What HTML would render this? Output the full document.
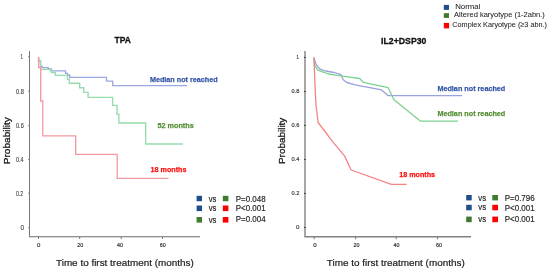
<!DOCTYPE html>
<html><head><meta charset="utf-8">
<style>
html,body{margin:0;padding:0;background:#fff;}
body{width:550px;height:273px;overflow:hidden;}
svg{display:block;font-family:"Liberation Sans",sans-serif;will-change:transform;}
</style></head>
<body>
<svg width="550" height="273" viewBox="0 0 550 273">
<rect width="550" height="273" fill="#fff"/>

<!-- Legend -->
<rect x="443.8" y="4.9" width="5.2" height="5" fill="#1f4e8c"/>
<rect x="443.8" y="13.2" width="5.2" height="4.7" fill="#3e7b2f"/>
<rect x="443.8" y="22.9" width="5.3" height="5.5" fill="#ff0000"/>
<g fill="#1f1f1f" stroke="#1f1f1f" stroke-width="0.06" font-size="7.9">
<text x="455.2" y="8.5" textLength="25.2" lengthAdjust="spacingAndGlyphs">Normal</text>
<text x="454.1" y="17" textLength="90.7" lengthAdjust="spacingAndGlyphs">Altered karyotype (1-2abn.)</text>
<text x="452.3" y="26.5" textLength="94.7" lengthAdjust="spacingAndGlyphs">Complex Karyotype (≥3 abn.)</text>
</g>

<!-- Titles -->
<g font-weight="bold" font-size="9.7" fill="#111" stroke="#111" stroke-width="0.3">
<text x="114.6" y="42.5" textLength="16.3" lengthAdjust="spacingAndGlyphs">TPA</text>
<text x="381.1" y="44.3" textLength="45.3" lengthAdjust="spacingAndGlyphs">IL2+DSP30</text>
</g>

<!-- LEFT CHART axes -->
<g stroke="#777" stroke-width="1" fill="none">
<path d="M29.5 51 V236.5"/><path d="M29 236.7 H200" stroke="#6a6a6a" stroke-width="1.1"/>
<path d="M28.2 56.7 H29.5 M28.2 91.2 H29.5 M28.2 125.6 H29.5 M28.2 159.6 H29.5 M28.2 193.2 H29.5 M28.2 227.6 H29.5"/>
<path d="M38.5 237 V239 M79.7 237 V239 M121.2 237 V239 M162.6 237 V239"/>
</g>
<g fill="#3a3a3a" stroke="#3a3a3a" stroke-width="0.1" font-size="6.4" text-anchor="end">
<text x="23" y="59.1" textLength="2.4" lengthAdjust="spacingAndGlyphs">1</text>
<text x="23.9" y="93.9" textLength="7.9" lengthAdjust="spacingAndGlyphs">0.8</text>
<text x="23.8" y="127.8" textLength="7.8" lengthAdjust="spacingAndGlyphs">0.6</text>
<text x="23.6" y="161.8" textLength="7.7" lengthAdjust="spacingAndGlyphs">0.4</text>
<text x="23.2" y="195.7" textLength="7.3" lengthAdjust="spacingAndGlyphs">0.2</text>
<text x="24" y="229.7">0</text>
</g>
<g fill="#333" stroke="#333" stroke-width="0.2" font-size="6" text-anchor="middle">
<text x="38.7" y="247">0</text>
<text x="80.2" y="247.3" textLength="6" lengthAdjust="spacingAndGlyphs">20</text>
<text x="120.1" y="247.1" textLength="6" lengthAdjust="spacingAndGlyphs">40</text>
<text x="162.7" y="247.1" textLength="6" lengthAdjust="spacingAndGlyphs">60</text>
</g>
<text x="56" y="266.4" font-size="9.3" fill="#222" stroke="#222" stroke-width="0.2" textLength="137.7" lengthAdjust="spacingAndGlyphs">Time to first treatment (months)</text>
<text transform="translate(10.4,164.2) rotate(-90)" font-size="9.6" fill="#1a1a1a" stroke="#1a1a1a" stroke-width="0.3" textLength="47" lengthAdjust="spacingAndGlyphs">Probability</text>

<!-- LEFT curves -->
<g fill="none" stroke-width="1.35">
<path stroke="#9ca6e0" d="M38.6 57 V61 H40.5 V66.5 H42.3 V67.6 H48.2 V68.8 H51.4 V70.9 H65.5 V73.3 H67.5 V75 H69.7 V77.4 H106.5 V81.1 H112.7 V85.6 H187.1"/>
<path stroke="#96dcac" d="M38.6 57 V61.5 H40.5 V69.3 H50 V70.5 H51.4 V72.5 H55.3 V75.4 H67.5 V79.2 H69.3 V83.2 H79.7 V87.7 H83.7 V92.3 H88.1 V97.4 H112.6 V105.4 H117 V114.2 H118.9 V123 H145.7 V144 H183"/>
<path stroke="#f59aa2" d="M38.6 57 V67.5 H40.7 V101 H42.8 V135.9 H75.7 V154.3 H117.2 V178.4 H168.6"/>
</g>
<g font-weight="bold" font-size="8" stroke-width="0.25">
<text x="149.9" y="81.6" fill="#3656a8" stroke="#3656a8" textLength="67.8" lengthAdjust="spacingAndGlyphs">Median not reached</text>
<text x="157.5" y="128.3" fill="#568f36" stroke="#568f36" textLength="36.2" lengthAdjust="spacingAndGlyphs">52 months</text>
<text x="150.6" y="171.5" fill="#ff1010" stroke="#ff1010" textLength="35.8" lengthAdjust="spacingAndGlyphs">18 months</text>
</g>

<!-- LEFT stats -->
<rect x="196.6" y="195.8" width="5.4" height="5.4" fill="#1f4e8c"/>
<rect x="222.8" y="195.8" width="5.6" height="5.4" fill="#3e7b2f"/>
<rect x="196.6" y="205.5" width="5.4" height="5.6" fill="#1f4e8c"/>
<rect x="222.8" y="205.5" width="5.6" height="5.6" fill="#ff0000"/>
<rect x="196.6" y="217" width="5.4" height="5.6" fill="#3e7b2f"/>
<rect x="222.8" y="217" width="5.6" height="5.6" fill="#ff0000"/>
<g fill="#2a2a2a" stroke="#2a2a2a" stroke-width="0.2" font-size="8.8">
<text x="208.8" y="202" font-size="9.6" textLength="7.6" lengthAdjust="spacingAndGlyphs">vs</text>
<text x="208.8" y="211.4" font-size="9.6" textLength="7.6" lengthAdjust="spacingAndGlyphs">vs</text>
<text x="208.8" y="223" font-size="9.6" textLength="7.6" lengthAdjust="spacingAndGlyphs">vs</text>
<text x="235.8" y="201.8" textLength="29.8" lengthAdjust="spacingAndGlyphs">P=0.048</text>
<text x="235.8" y="211.2" textLength="29.8" lengthAdjust="spacingAndGlyphs">P&lt;0.001</text>
<text x="235.8" y="222.3" textLength="29.8" lengthAdjust="spacingAndGlyphs">P=0.004</text>
</g>

<!-- RIGHT CHART axes -->
<g stroke="#828282" stroke-width="1.4" fill="none">
<path d="M305 51 V236.7 H471"/>
</g>
<g stroke="#777" stroke-width="1" fill="none">
<path stroke="#3a3a3a" d="M304 57.4 H305.8 M304 91.4 H305.8 M304 125.4 H305.8 M304 159.4 H305.8 M304 193.4 H305.8 M304 227.4 H305.8"/>
<path d="M314.2 236.7 V239.3 M355.6 236.7 V239.3 M396.2 236.7 V239.3 M437.5 236.7 V239.3"/>
</g>
<g fill="#333" stroke="#333" stroke-width="0.15" font-size="6.2" text-anchor="end">
<text x="298.9" y="58.9" textLength="2.4" lengthAdjust="spacingAndGlyphs">1</text>
<text x="299.4" y="92.9" textLength="7.9" lengthAdjust="spacingAndGlyphs">0.8</text>
<text x="299.4" y="127.1" textLength="7.9" lengthAdjust="spacingAndGlyphs">0.6</text>
<text x="299.4" y="161.1" textLength="7.9" lengthAdjust="spacingAndGlyphs">0.4</text>
<text x="299.4" y="195" textLength="7.9" lengthAdjust="spacingAndGlyphs">0.2</text>
<text x="299.5" y="229">0</text>
</g>
<g fill="#333" stroke="#333" stroke-width="0.2" font-size="6" text-anchor="middle">
<text x="314.9" y="247">0</text>
<text x="356.5" y="247.4" textLength="6" lengthAdjust="spacingAndGlyphs">20</text>
<text x="396.5" y="247.2" textLength="6" lengthAdjust="spacingAndGlyphs">40</text>
<text x="439" y="247.2" textLength="6" lengthAdjust="spacingAndGlyphs">60</text>
</g>
<text x="326.8" y="266.4" font-size="9.3" fill="#222" stroke="#222" stroke-width="0.2" textLength="137.9" lengthAdjust="spacingAndGlyphs">Time to first treatment (months)</text>
<text transform="translate(285.4,164) rotate(-90)" font-size="9.6" fill="#1a1a1a" stroke="#1a1a1a" stroke-width="0.3" textLength="46.3" lengthAdjust="spacingAndGlyphs">Probability</text>

<!-- RIGHT curves -->
<g fill="none" stroke-width="1.3" stroke-linejoin="round">
<polyline stroke="#98a2dc" points="313.9,57.6 316.1,64.5 319.7,68.8 325.6,71 334.4,72.5 341,74.7 343.2,79.8 346.8,82.5 355.2,84.8 381.6,89.9 388.2,95.7 462.2,95.7"/>
<polyline stroke="#7cd290" points="313.9,57.6 314.6,65.2 317.5,69.9 322.7,71.8 328.5,74 337.3,75.4 348,76.9 359.6,78.5 363.3,82.3 388.2,87.7 394,99.8 399.9,104.5 420.6,121.2 458.1,121.2"/>
<polyline stroke="#f58484" points="313.9,57.6 315.3,92 316,104.8 318.1,122.5 325.4,132 332,140.8 339.3,149.6 344.7,156.1 351.2,170 391.3,184.3 406.6,184.3"/>
</g>
<g font-weight="bold" font-size="8" stroke-width="0.25">
<text x="437.4" y="90.7" fill="#3656a8" stroke="#3656a8" textLength="67.9" lengthAdjust="spacingAndGlyphs">Median not reached</text>
<text x="437.4" y="115.9" fill="#568f36" stroke="#568f36" textLength="67.9" lengthAdjust="spacingAndGlyphs">Median not reached</text>
<text x="399.3" y="177.3" fill="#ff1010" stroke="#ff1010" textLength="35.8" lengthAdjust="spacingAndGlyphs">18 months</text>
</g>

<!-- RIGHT stats -->
<rect x="466.2" y="195" width="5.5" height="5.4" fill="#1f4e8c"/>
<rect x="492.3" y="195" width="5.7" height="5.4" fill="#3e7b2f"/>
<rect x="466.2" y="204.8" width="5.5" height="5.5" fill="#1f4e8c"/>
<rect x="492.3" y="204.8" width="5.7" height="5.5" fill="#ff0000"/>
<rect x="466.2" y="216.6" width="5.5" height="5.6" fill="#3e7b2f"/>
<rect x="492.3" y="216.6" width="5.7" height="5.6" fill="#ff0000"/>
<g fill="#2a2a2a" stroke="#2a2a2a" stroke-width="0.2" font-size="8.8">
<text x="478.3" y="201.1" font-size="9.6" textLength="7.7" lengthAdjust="spacingAndGlyphs">vs</text>
<text x="478.3" y="210.4" font-size="9.6" textLength="7.7" lengthAdjust="spacingAndGlyphs">vs</text>
<text x="478.3" y="222" font-size="9.6" textLength="7.7" lengthAdjust="spacingAndGlyphs">vs</text>
<text x="504.7" y="200.5" textLength="30" lengthAdjust="spacingAndGlyphs">P=0.796</text>
<text x="504.7" y="210.5" textLength="30" lengthAdjust="spacingAndGlyphs">P&lt;0.001</text>
<text x="504.7" y="221.8" textLength="30" lengthAdjust="spacingAndGlyphs">P&lt;0.001</text>
</g>
</svg>
</body></html>
